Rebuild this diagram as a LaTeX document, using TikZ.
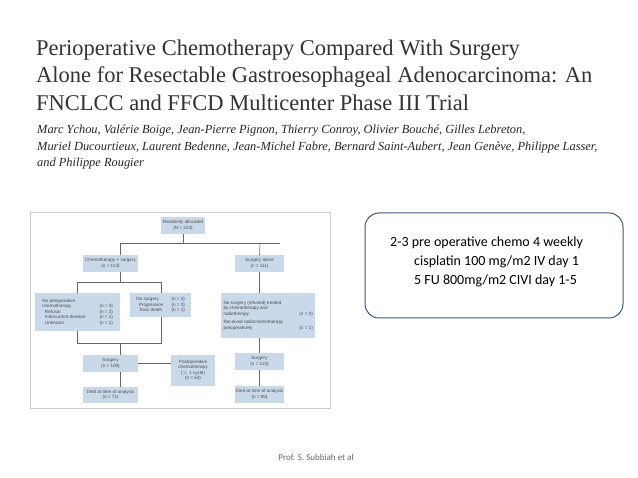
\documentclass[tikz,border=0pt]{standalone}
\usepackage{fontspec}
\setmainfont{Liberation Serif}
\newfontfamily\calfont{Carlito}
\newfontfamily\fcfont{Liberation Sans}
\begin{document}
\begin{tikzpicture}[x=1pt,y=-1pt,
  fb/.style={fill=boxblue,draw=none,font=\fcfont\fontsize{4.6}{5.4}\selectfont,text=black!70,align=center,inner sep=0},
  ln/.style={draw=black!60,line width=0.6pt},
  ttl/.style={anchor=west,font=\fontsize{22.5}{26}\selectfont,text=black!80,inner sep=0},
  au/.style={anchor=west,font=\itshape\fontsize{12.4}{14}\selectfont,text=black!85,inner sep=0}]
\definecolor{boxblue}{HTML}{C9D9EA}
\definecolor{navy}{HTML}{3A5A80}
\useasboundingbox (0,0) rectangle (638,478);
\fill[white] (0,0) rectangle (638,478);
% title
\node[ttl] (t1) at (36,50) {Perioperative Chemotherapy Compared With Surgery};
\node[ttl] (t2) at (36,77) {Alone for Resectable Gastroesophageal Adenocarcinoma: An};
\node[ttl] (t3) at (36,103) {FNCLCC and FFCD Multicenter Phase III Trial};
\node[au] (a1) at (37,131) {Marc Ychou, Valérie Boige, Jean-Pierre Pignon, Thierry Conroy, Olivier Bouché, Gilles Lebreton,};
\node[au] (a2) at (37,148) {Muriel Ducourtieux, Laurent Bedenne, Jean-Michel Fabre, Bernard Saint-Aubert, Jean Genève, Philippe Lasser,};
\node[au] (a3) at (37,164) {and Philippe Rougier};
% flowchart frame
\draw[black!20,line width=0.5pt] (30,212) rectangle (330,408);
% boxes
\node[fb,minimum width=44,minimum height=17] (r) at (183,225.5) {Randomly allocated\\(N = 224)};
\node[fb,minimum width=55,minimum height=17] (cs) at (110.5,263.5) {Chemotherapy + surgery\\(n = 113)};
\node[fb,minimum width=49,minimum height=17] (sa) at (259.5,263.5) {Surgery alone\\(n = 111)};
\node[fb,minimum width=85,minimum height=38,align=left,anchor=north west] (np) at (35,293) {\begin{tabular}{@{}l@{\hspace{14pt}}l@{}}No preoperative&\\chemotherapy&(n = 4)\\\ \ Refusal&(n = 2)\\\ \ Intercurrent disease&(n = 1)\\\ \ Unknown&(n = 1)\end{tabular}};
\node[fb,minimum width=61,minimum height=24,anchor=north west] (ns) at (130,293) {\begin{tabular}{@{}l@{\hspace{8pt}}l@{}}No surgery&(n = 4)\\\ \ Progression&(n = 3)\\\ \ Toxic death&(n = 1)\end{tabular}};
\node[fb,minimum width=94,minimum height=45,anchor=north west] (nr) at (221,293) {\begin{tabular}{@{}l@{\hspace{16pt}}l@{}}No surgery (refused) treated&\\by chemotherapy and&\\radiotherapy&(n = 4)\\[3pt]Received radiochemotherapy&\\preoperatively&(n = 1)\end{tabular}};
\node[fb,minimum width=55,minimum height=17] (sl) at (110.5,363.5) {Surgery\\(n = 109)};
\node[fb,minimum width=44,minimum height=31] (po) at (193,370.5) {Postoperative\\chemotherapy\\($>$ 1 cycle)\\(n = 54)};
\node[fb,minimum width=49,minimum height=17] (sr) at (259.5,361.5) {Surgery\\(n = 110)};
\node[fb,minimum width=55,minimum height=16] (dl) at (110.5,395) {Died at time of analysis\\(n = 71)};
\node[fb,minimum width=49,minimum height=17] (dr) at (259.5,394.5) {Died at time of analysis\\(n = 85)};
% connectors
\coordinate (h1) at (183,243);
\draw[ln] (r.south) -- (h1);
\draw[ln] (120,243) -- (280,243);
\draw[ln] (120,243) -- (cs.north -| 120,0);
\draw[ln] (260,243) -- (sa.north);
\draw[ln] (120,272) -- (120,282);
\draw[ln] (77,282) -- (161,282);
\draw[ln] (77,282) -- (np.north -| 77,0);
\draw[ln] (161,282) -- (ns.north -| 161,0);
\draw[ln] (77,331) -- (77,343) -- (161,343) -- (161,317);
\draw[ln] (120,343) -- (sl.north -| 120,0);
\draw[ln] (sl.east) -- (po.west |- sl.east);
\draw[ln] (120,372) -- (dl.north -| 120,0);
\draw[ln] (sa.south) -- (nr.north -| sa.south);
\draw[ln] (nr.south -| sa.south) -- (sr.north);
\draw[ln] (sr.south) -- (dr.north);
% callout
\draw[navy,line width=1pt,rounded corners=14pt] (365,213) rectangle (623,318);
\node[anchor=west,inner sep=0,font=\calfont\fontsize{14}{17}\selectfont] (c1) at (390,243) {2-3 pre operative chemo 4 weekly};
\node[anchor=west,inner sep=0,font=\calfont\fontsize{14}{17}\selectfont] (c2) at (414,262) {cisplatin 100 mg/m2 IV day 1};
\node[anchor=west,inner sep=0,font=\calfont\fontsize{14}{17}\selectfont] (c3) at (414,281) {5 FU 800mg/m2 CIVI day 1-5};
\node[inner sep=0,font=\calfont\fontsize{9}{11}\selectfont,text=black!60] (f) at (316,457) {Prof. S. Subbiah et al};
\end{tikzpicture}
\end{document}
